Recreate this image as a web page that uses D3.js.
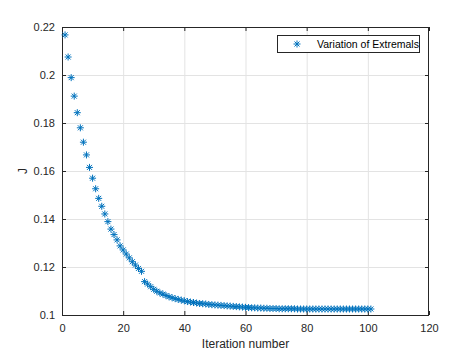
<!DOCTYPE html>
<html><head><meta charset="utf-8">
<script src="https://cdn.jsdelivr.net/npm/d3@7"></script>
<style>body{margin:0;background:#fff;}svg{display:block;}</style>
</head><body>
<script>
const iterations = d3.range(1, 102);
const J = [0.2167,0.2075,0.1989,0.1912,0.1843,0.1780,0.1720,0.1667,0.1615,0.1570,
0.1526,0.1486,0.1453,0.1421,0.1389,0.1358,0.1335,0.1313,0.1288,0.1271,
0.1254,0.1238,0.1222,0.1208,0.1194,0.1182,0.1139,0.1129,0.1118,0.1107,
0.1099,0.1092,0.1087,0.1081,0.1076,0.1072,0.1068,0.1065,0.1062,0.1059,
0.1056,0.1054,0.1052,0.1050,0.1048,0.1047,0.1046,0.1044,0.1043,0.1042,
0.1041,0.1040,0.1039,0.1038,0.1037,0.1036,0.1035,0.1034,0.1033,0.1032,
0.1031,0.1030,0.1030,0.1029,0.1029,0.1028,0.1028,0.1027,0.1027,0.1027,
0.1026,0.1026,0.1026,0.1026,0.1026,0.1026,0.1025,0.1025,0.1025,0.1025,
0.1025,0.1025,0.1025,0.1025,0.1025,0.1025,0.1025,0.1025,0.1025,0.1025,
0.1025,0.1025,0.1025,0.1025,0.1025,0.1025,0.1025,0.1025,0.1025,0.1025,0.1025];
const xTicks = [0,20,40,60,80,100,120];
const yTicks = [0.1,0.12,0.14,0.16,0.18,0.2,0.22];
const legendLabel = "Variation of Extremals";

const W = 474, H = 355;
const L = 62, R = 429, T = 27, B = 315;
const svg = d3.select("body").append("svg").attr("width", W).attr("height", H);
const x = d3.scaleLinear().domain([0,120]).range([L,R]);
const y = d3.scaleLinear().domain([0.1,0.22]).range([B,T]);
const font = "Liberation Sans, Arial, sans-serif";
const axCol = "#262626";

// grid
svg.append("g").selectAll("line").data(xTicks.slice(1,-1)).join("line")
  .attr("x1", d=>x(d)+0.5).attr("x2", d=>x(d)+0.5).attr("y1", T).attr("y2", B)
  .attr("stroke", "#e3e3e3").attr("stroke-width", 1);
svg.append("g").selectAll("line").data(yTicks.slice(1,-1)).join("line")
  .attr("y1", d=>Math.round(y(d))+0.5).attr("y2", d=>Math.round(y(d))+0.5).attr("x1", L).attr("x2", R)
  .attr("stroke", "#e3e3e3").attr("stroke-width", 1);

// axes
const xAxis = d3.axisBottom(x).tickValues(xTicks).tickSizeInner(-4).tickSizeOuter(0).tickPadding(9).tickFormat(d3.format("d"));
const yAxis = d3.axisLeft(y).tickValues(yTicks).tickSizeInner(-4).tickSizeOuter(0).tickPadding(7).tickFormat(d=>d3.format("")(+d.toFixed(2)));
const gx = svg.append("g").attr("transform", `translate(0,${B})`).call(xAxis);
const gy = svg.append("g").attr("transform", `translate(${L},0)`).call(yAxis);
const gxt = svg.append("g").attr("transform", `translate(0,${T})`).call(d3.axisTop(x).tickValues(xTicks).tickSizeInner(-4).tickSizeOuter(0).tickFormat(""));
const gyr = svg.append("g").attr("transform", `translate(${R},0)`).call(d3.axisRight(y).tickValues(yTicks).tickSizeInner(-4).tickSizeOuter(0).tickFormat(""));
[gx,gy,gxt,gyr].forEach(g=>{
  g.select(".domain").remove();
  g.selectAll("line").attr("stroke", axCol);
  g.selectAll("text").attr("fill", axCol).style("font-family", font).style("font-size", "11px");
});
svg.append("rect").attr("x", L+0.5).attr("y", T+0.5).attr("width", R-L-1).attr("height", B-T)
  .attr("fill", "none").attr("stroke", axCol).attr("stroke-width", 1);

// labels
svg.append("text").attr("x", (L+R)/2).attr("y", 348).attr("text-anchor", "middle")
  .attr("fill", axCol).style("font-family", font).style("font-size", "12px").text("Iteration number");
svg.append("text").attr("transform", `translate(27,${(T+B)/2}) rotate(-90)`).attr("text-anchor", "middle")
  .attr("fill", axCol).style("font-family", font).style("font-size", "12px").text("J");

// markers
const star = "M-3.5,0L3.5,0M0,-3.5L0,3.5M-2.5,-2.5L2.5,2.5M-2.5,2.5L2.5,-2.5";
const col = "#0072BD";
svg.append("g").selectAll("path").data(iterations).join("path")
  .attr("transform", (d,i)=>`translate(${x(d)},${y(J[i])})`)
  .attr("d", star).attr("stroke", col).attr("stroke-width", 1).attr("fill", "none");

// legend
const lg = svg.append("g");
lg.append("rect").attr("x", 277.5).attr("y", 35.5).attr("width", 142).attr("height", 17)
  .attr("fill", "#fff").attr("stroke", axCol).attr("stroke-width", 1);
lg.append("path").attr("transform", "translate(297,44)").attr("d", star).attr("stroke", col).attr("fill", "none");
lg.append("text").attr("x", 317).attr("y", 48).attr("fill", "#000").style("font-family", font).style("font-size", "10.5px").text(legendLabel);
</script>
</body></html>
